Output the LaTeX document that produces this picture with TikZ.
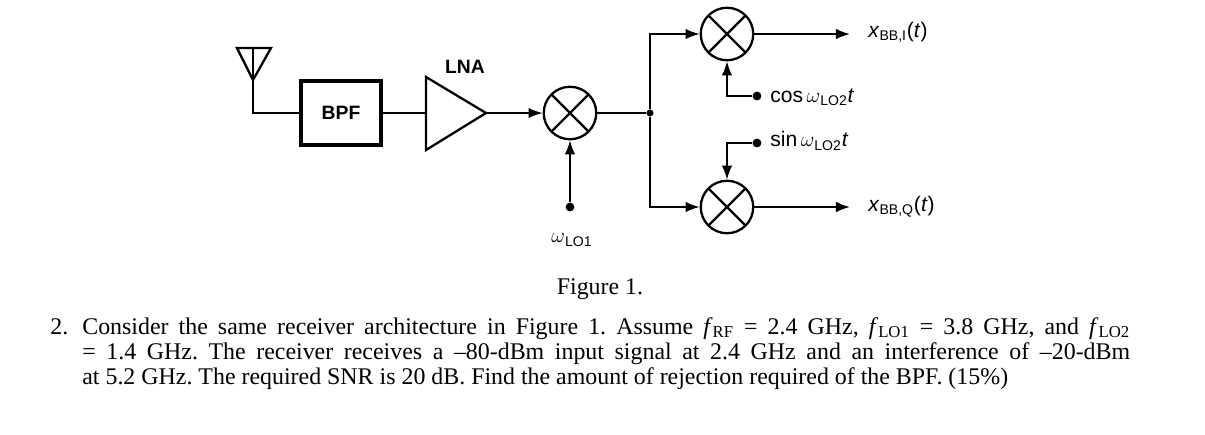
\documentclass[tikz,border=0pt]{standalone}
\usepackage{fontspec}
\setmainfont{Liberation Serif}
\newfontfamily\diagfont{Liberation Sans}
\usetikzlibrary{positioning,arrows.meta,calc}
\tikzset{
  mixer/.style={draw,line width=1.3pt,circle,minimum size=1.05cm,inner sep=0pt,
    path picture={\draw[line width=1.3pt] (path picture bounding box.north west)--(path picture bounding box.south east)
      (path picture bounding box.north east)--(path picture bounding box.south west);}},
  wire/.style={line width=1pt},
  sig/.style={wire,-{Latex[length=8pt,width=6pt]}},
  dot/.style={circle,fill,inner sep=0pt,minimum size=5pt},
  lbl/.style={font=\diagfont\fontsize{12}{14}\selectfont,inner sep=0pt},
  txt/.style={font=\fontsize{13.6}{14.3}\selectfont\frenchspacing,inner sep=0pt}
}
\begin{document}
\begin{tikzpicture}[x=0.02cm,y=-0.02cm]
            \useasboundingbox (0,0) rectangle (1205,434);
            % antenna
            \draw[line width=1.3pt] (237,48) -- (271,48) -- (253,80) -- cycle;
            \draw[line width=1.3pt] (253,48) -- (253,80);
            \coordinate (ant) at (253,80);
            \node[draw,line width=2pt,minimum width=1.6cm,minimum height=1.28cm,lbl,font=\diagfont\bfseries\fontsize{11}{12}\selectfont] (bpf) at (341,113) {BPF};
            \draw[wire] (ant) |- (bpf.west);
            % LNA
            \draw[line width=1.3pt] (426,77) -- (486,113) -- (426,150) -- cycle;
            \coordinate (lnain) at (426,113);
            \coordinate (lnaout) at (486,113);
            \node[lbl,font=\diagfont\bfseries\fontsize{11}{12}\selectfont] (lnalbl) at (465,67) {LNA};
            \draw[wire] (bpf.east) -- (lnain);
            % first mixer
            \node[mixer] (mix1) at (570,113) {};
            \draw[sig] (lnaout) -- (mix1.west);
            \node[dot] (lo1) at (570,207) {};
            \draw[sig] (lo1) -- (mix1.south);
            \node[lbl] (lo1lbl) at (572,240) {$\omega$\textsubscript{LO1}};
            % I/Q split
            \node[dot,minimum size=4pt] (split) at (650,113) {};
            \draw[wire] (mix1.east) -- (split);
            \node[mixer] (mixI) at (727,34) {};
            \node[mixer] (mixQ) at (727,207) {};
            \draw[sig] (split) |- (mixI.west);
            \draw[sig] (split) |- (mixQ.west);
            \coordinate (outI) at (850,34);
            \coordinate (outQ) at (850,207);
            \draw[sig] (mixI.east) -- (outI);
            \draw[sig] (mixQ.east) -- (outQ);
            \node[lbl,anchor=west] (xI) at (868,32) {\textit{x}\textsubscript{BB,I}(\textit{t})};
            \node[lbl,anchor=west] (xQ) at (868,207) {\textit{x}\textsubscript{BB,Q}(\textit{t})};
            % LO2
            \node[dot] (cos) at (757,96) {};
            \node[dot] (sin) at (757,143) {};
            \draw[sig] (cos) -| (mixI.south);
            \draw[sig] (sin) -| (mixQ.north);
            \node[lbl,anchor=west] (coslbl) at (770,97) {cos\,$\omega$\textsubscript{LO2}\textit{t}};
            \node[lbl,anchor=west] (sinlbl) at (770,141) {sin\,$\omega$\textsubscript{LO2}\textit{t}};
            % question text
            \node[txt] (fig) at (600,289) {Figure 1.};
            \node[txt,anchor=base west] (num) at (50,334) {2.};
            \node[txt,anchor=base west,text width=20.96cm,align=justify] (q) at (82,334)
              {Consider the same receiver architecture in Figure 1. Assume \textit{f}\textsubscript{RF} = 2.4 GHz, \textit{f}\textsubscript{LO1} = 3.8 GHz, and \textit{f}\textsubscript{LO2}\linebreak = 1.4 GHz. The receiver receives a --80-dBm input signal at 2.4 GHz and an interference of --20-dBm\linebreak at 5.2 GHz. The required SNR is 20 dB. Find the amount of rejection required of the BPF. (15\%)};
        \end{tikzpicture}
\end{document}
